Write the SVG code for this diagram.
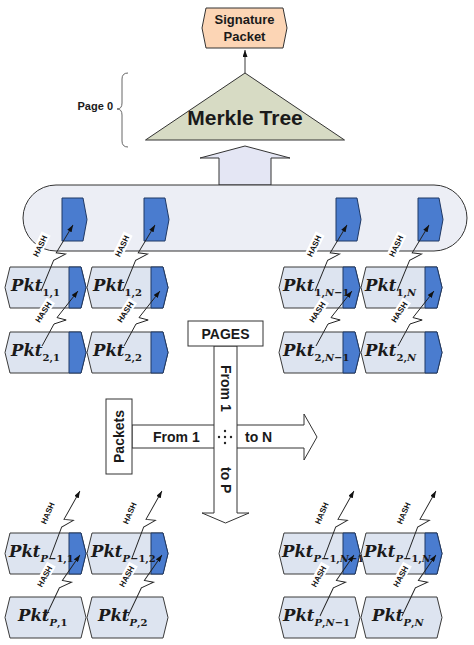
<svg xmlns="http://www.w3.org/2000/svg" width="474" height="645" viewBox="0 0 474 645">
<style>
.ln{fill:none;stroke:#222;stroke-width:0.9}
.pk{fill:#dde4f0;stroke:#3a3a3a;stroke-width:1}
.bl{fill:#4a7ccf;stroke:#1f3864;stroke-width:1}
.pt{font-family:"DejaVu Serif",serif;font-weight:bold;font-style:italic;font-size:16.5px;fill:#1a1a1a}
.sb{font-size:10px;font-style:normal}
.it{font-style:italic}
.hs{font-family:"Liberation Sans",Arial,sans-serif;font-weight:bold;font-size:8px;fill:#111}
.lb{font-family:"Liberation Sans",Arial,sans-serif;font-weight:bold;fill:#1a1a1a}
.ol{stroke:#333;stroke-width:1}
</style>
<defs>
<marker id="ah" markerUnits="userSpaceOnUse" markerWidth="7" markerHeight="5" refX="7" refY="2.5" orient="auto"><path d="M0,0 L7,2.5 L0,5 Z" fill="#111"/></marker>
<path id="pkb" class="pk" d="M0,20.5 L5,0 L76,0 L81,20.5 L76,41 L5,41 Z"/>
<path id="blb" class="bl" d="M64,0 L76,0 L81,20.5 L76,41 L64,41 Z"/>
<path id="tab" class="bl" d="M0,0 L21,0 L25,21.5 L21,43 L0,43 Z"/>
<g id="h1"><path class="ln" d="M0,0 L33,-2 L44,6 L41,-3 L73.3,0" marker-end="url(#ah)"/><rect x="26" y="-25.5" width="28" height="10" fill="#fff"/><text class="hs" x="40" y="-17.6" text-anchor="middle">HASH</text></g>
<g id="h2"><path class="ln" d="M0,0 L25,-2 L35,6 L32,-3 L65.7,0" marker-end="url(#ah)"/><rect x="15" y="-22.5" width="28" height="10" fill="#fff"/><text class="hs" x="29" y="-14.6" text-anchor="middle">HASH</text></g>
<g id="h4"><path class="ln" d="M0,0 L31,-2 L42,6 L39,-3 L69.8,0" marker-end="url(#ah)"/><rect x="20" y="-25.5" width="28" height="10" fill="#fff"/><text class="hs" x="34" y="-17.6" text-anchor="middle">HASH</text></g>
</defs>
<rect width="474" height="645" fill="#fff"/>

<g id="signature-packet">
<path d="M202,28 L206,8 L283,8 L287,28 L283,48 L206,48 Z" fill="#fcd5b5" class="ol"/>
<text class="lb" x="244.5" y="24" font-size="13" text-anchor="middle" fill="#333">Signature</text>
<text class="lb" x="244.5" y="41" font-size="13" text-anchor="middle" fill="#333">Packet</text>
</g>

<g id="page0">
<path d="M128,73 Q122,73 122,79 L122,103 Q122,109 117,109 Q122,109 122,115 L122,141 Q122,147 128,147" fill="none" stroke="#555" stroke-width="0.9"/>
<text class="lb" x="113" y="110" font-size="11" text-anchor="end">Page 0</text>
</g>

<g id="merkle-tree">
<path d="M245,73 L344.5,140 L145.5,140 Z" fill="#d7dbc4" class="ol"/>
<text class="lb" x="245" y="125" font-size="21" text-anchor="middle">Merkle Tree</text>
</g>

<g id="up-arrow">
<path d="M245,146 L290,158 L271,158 L271,185 L219,185 L219,158 L200,158 Z" fill="#e4e6f4" class="ol"/>
</g>

<g id="hash-container">
<rect x="23" y="185" width="444" height="66" rx="33" ry="33" fill="#eceef5" class="ol"/>
<use href="#tab" x="62" y="198"/>
<use href="#tab" x="144" y="198"/>
<use href="#tab" x="336" y="198"/>
<use href="#tab" x="418" y="198"/>
</g>

<g id="pkt-1-1"><use href="#pkb" x="5" y="267"/><use href="#blb" x="5" y="267"/><text class="pt" x="11" y="291">Pkt<tspan class="sb" dy="5">1,1</tspan></text></g>
<g id="pkt-1-2"><use href="#pkb" x="87" y="267"/><use href="#blb" x="87" y="267"/><text class="pt" x="93" y="291">Pkt<tspan class="sb" dy="5">1,2</tspan></text></g>
<g id="pkt-1-n1"><use href="#pkb" x="279" y="267"/><use href="#blb" x="279" y="267"/><text class="pt" x="283" y="291" font-size="15.5">Pkt<tspan class="sb" dy="5" font-size="9">1,</tspan><tspan class="sb it" font-size="9">N</tspan><tspan class="sb" font-size="9">−1</tspan></text></g>
<g id="pkt-1-n"><use href="#pkb" x="361" y="267"/><use href="#blb" x="361" y="267"/><text class="pt" x="365" y="291">Pkt<tspan class="sb" dy="5">1,</tspan><tspan class="sb it">N</tspan></text></g>

<g id="pkt-2-1"><use href="#pkb" x="5" y="332"/><use href="#blb" x="5" y="332"/><text class="pt" x="11" y="356">Pkt<tspan class="sb" dy="5">2,1</tspan></text></g>
<g id="pkt-2-2"><use href="#pkb" x="87" y="332"/><use href="#blb" x="87" y="332"/><text class="pt" x="93" y="356">Pkt<tspan class="sb" dy="5">2,2</tspan></text></g>
<g id="pkt-2-n1"><use href="#pkb" x="279" y="332"/><use href="#blb" x="279" y="332"/><text class="pt" x="283" y="356" font-size="15.5">Pkt<tspan class="sb" dy="5" font-size="9">2,</tspan><tspan class="sb it" font-size="9">N</tspan><tspan class="sb" font-size="9">−1</tspan></text></g>
<g id="pkt-2-n"><use href="#pkb" x="361" y="332"/><use href="#blb" x="361" y="332"/><text class="pt" x="365" y="356">Pkt<tspan class="sb" dy="5">2,</tspan><tspan class="sb it">N</tspan></text></g>

<g id="pkt-p1-1"><use href="#pkb" x="5" y="533"/><use href="#blb" x="5" y="533"/><text class="pt" x="9" y="557" font-size="15.5">Pkt<tspan class="sb it" dy="5" font-size="8.5">P</tspan><tspan class="sb" font-size="8.5">−1,1</tspan></text></g>
<g id="pkt-p1-2"><use href="#pkb" x="87" y="533"/><use href="#blb" x="87" y="533"/><text class="pt" x="91" y="557" font-size="15.5">Pkt<tspan class="sb it" dy="5" font-size="8.5">P</tspan><tspan class="sb" font-size="8.5">−1,2</tspan></text></g>
<g id="pkt-p1-n1"><use href="#pkb" x="279" y="533"/><use href="#blb" x="279" y="533"/><text class="pt" x="282" y="557" font-size="13.5">Pkt<tspan class="sb it" dy="5" font-size="6.5">P</tspan><tspan class="sb" font-size="6.5">−1,</tspan><tspan class="sb it" font-size="6.5">N</tspan><tspan class="sb" font-size="6.5">−1</tspan></text></g>
<g id="pkt-p1-n"><use href="#pkb" x="361" y="533"/><use href="#blb" x="361" y="533"/><text class="pt" x="364" y="557" font-size="15.5">Pkt<tspan class="sb it" dy="5" font-size="7.5">P</tspan><tspan class="sb" font-size="7.5">−1,</tspan><tspan class="sb it" font-size="7.5">N</tspan></text></g>

<g id="pkt-p-1"><use href="#pkb" x="5" y="597"/><text class="pt" x="18" y="621">Pkt<tspan class="sb it" dy="5">P</tspan><tspan class="sb">,1</tspan></text></g>
<g id="pkt-p-2"><use href="#pkb" x="87" y="597"/><text class="pt" x="98" y="621">Pkt<tspan class="sb it" dy="5">P</tspan><tspan class="sb">,2</tspan></text></g>
<g id="pkt-p-n1"><use href="#pkb" x="279" y="597"/><text class="pt" x="283" y="621">Pkt<tspan class="sb it" dy="5" font-size="8">P</tspan><tspan class="sb" font-size="8">,</tspan><tspan class="sb it" font-size="8">N</tspan><tspan class="sb" font-size="8">−1</tspan></text></g>
<g id="pkt-p-n"><use href="#pkb" x="361" y="597"/><text class="pt" x="372" y="621">Pkt<tspan class="sb it" dy="5" font-size="9">P</tspan><tspan class="sb" font-size="9">,</tspan><tspan class="sb it" font-size="9">N</tspan></text></g>

<g id="packets-arrow">
<path d="M132,425 L304,425 L304,414 L317,437 L304,460 L304,448 L132,448 Z" fill="#fff" class="ol"/>
<rect x="106" y="399" width="26" height="75" fill="#fff" class="ol"/>
<text class="lb" font-size="14" text-anchor="middle" transform="translate(124,436.5) rotate(-90)">Packets</text>
<text class="lb" x="153" y="442" font-size="14">From 1</text>
<text class="lb" x="245" y="442" font-size="14">to N</text>
</g>

<g id="pages-arrow">
<path d="M214,346 L237,346 L237,513 L249,513 L225.5,523 L202,513 L214,513 Z" fill="#fff" class="ol"/>
<rect x="188" y="321" width="75" height="25" fill="#fff" class="ol"/>
<text class="lb" x="225.5" y="339" font-size="14" text-anchor="middle">PAGES</text>
<text class="lb" font-size="14" transform="translate(220.5,365) rotate(90)">From 1</text>
<text class="lb" font-size="14" transform="translate(220.5,467) rotate(90)">to P</text>
<g fill="#222"><circle cx="219" cy="437" r="1.2"/><circle cx="231" cy="437" r="1.2"/><circle cx="225" cy="431" r="1.2"/><circle cx="225" cy="443" r="1.2"/><circle cx="225" cy="437" r="1.2"/></g>
</g>

<g id="connectors">
<line class="ln" x1="245" y1="73" x2="245" y2="50" marker-end="url(#ah)"/>
<use href="#h1" transform="translate(41,291) rotate(-64.1)"/>
<use href="#h1" transform="translate(123,291) rotate(-64.1)"/>
<use href="#h1" transform="translate(315,291) rotate(-64.1)"/>
<use href="#h1" transform="translate(397,291) rotate(-64.1)"/>
<use href="#h2" transform="translate(42,346) rotate(-56.8)"/>
<use href="#h2" transform="translate(124,346) rotate(-56.8)"/>
<use href="#h2" transform="translate(316,346) rotate(-56.8)"/>
<use href="#h2" transform="translate(398,346) rotate(-56.8)"/>
<use href="#h1" transform="translate(50,558) rotate(-65.9)"/>
<use href="#h1" transform="translate(132,558) rotate(-65.9)"/>
<use href="#h1" transform="translate(324,558) rotate(-65.9)"/>
<use href="#h1" transform="translate(406,558) rotate(-65.9)"/>
<use href="#h4" transform="translate(46,616) rotate(-60.9)"/>
<use href="#h4" transform="translate(128,616) rotate(-60.9)"/>
<use href="#h4" transform="translate(320,616) rotate(-60.9)"/>
<use href="#h4" transform="translate(402,616) rotate(-60.9)"/>
</g>
</svg>
